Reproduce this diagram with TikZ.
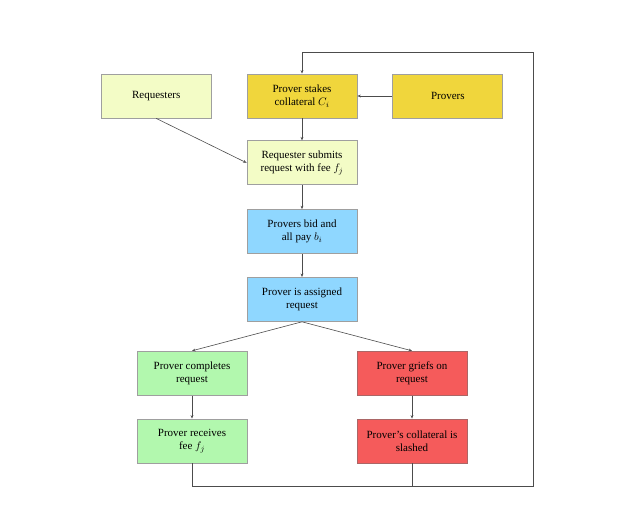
\documentclass[tikz,border=0pt]{standalone}
\usepackage{fontspec}
\setmainfont{Liberation Serif}
\usepackage{xcolor}
\usetikzlibrary{arrows.meta,positioning}

\definecolor{reqyellow}{HTML}{F3FCC6}
\definecolor{gold}{HTML}{F0D63C}
\definecolor{bidblue}{HTML}{8FD7FF}
\definecolor{okgreen}{HTML}{B2F8AE}
\definecolor{badred}{HTML}{F55B5B}

\begin{document}
\begin{tikzpicture}[
    stage/.style={rectangle, draw=gray!75, line width=0.8pt, minimum width=110pt, minimum height=44pt, align=center, font=\fontsize{11}{13.5}\selectfont},
    arrow/.style={-{Stealth[length=3.5pt,width=2.8pt]}, draw=black!70, line width=0.6pt},
    link/.style={draw=black!70, line width=0.6pt}
]
    \useasboundingbox (0,0) rectangle (631pt,-504pt);

    \node[stage, fill=gold] (stakes) at (302pt,-96pt) {Prover stakes\\collateral $C_i$};
    \node[stage, fill=reqyellow, left=35pt of stakes] (requesters) {Requesters};
    \node[stage, fill=gold, right=35pt of stakes] (provers) {Provers};
    \node[stage, fill=reqyellow, below=22pt of stakes] (submit) {Requester submits\\request with fee $f_j$};
    \node[stage, fill=bidblue, below=24pt of submit] (bid) {Provers bid and\\all pay $b_i$};
    \node[stage, fill=bidblue, below=23pt of bid] (assigned) {Prover is assigned\\request};
    \node[stage, fill=okgreen, below=29pt of assigned, xshift=-110pt] (completes) {Prover completes\\request};
    \node[stage, fill=badred, draw=red!45!black!60, below=29pt of assigned, xshift=110pt] (griefs) {Prover griefs on\\request};
    \node[stage, fill=okgreen, below=23pt of completes] (receives) {Prover receives\\fee $f_j$};
    \node[stage, fill=badred, draw=red!45!black!60, below=23pt of griefs] (slashed) {Prover's collateral is\\slashed};

    \coordinate (loopbr) at (533pt,-486pt);
    \coordinate (looptr) at (533pt,-52pt);

    \draw[arrow] (provers.west) -- (stakes.east);
    \draw[arrow] (requesters.south) -- (submit.west);
    \draw[arrow] (stakes.south) -- (submit.north);
    \draw[arrow] (submit.south) -- (bid.north);
    \draw[arrow] (bid.south) -- (assigned.north);
    \draw[arrow] (assigned.south) -- (completes.north);
    \draw[arrow] (assigned.south) -- (griefs.north);
    \draw[arrow] (completes.south) -- (receives.north);
    \draw[arrow] (griefs.south) -- (slashed.north);

    % way back to the top
    \draw[link] (slashed.south) -- (slashed.south |- loopbr);
    \draw[arrow] (receives.south) |- (loopbr) -- (looptr) -| (stakes.north);
\end{tikzpicture}
\end{document}
